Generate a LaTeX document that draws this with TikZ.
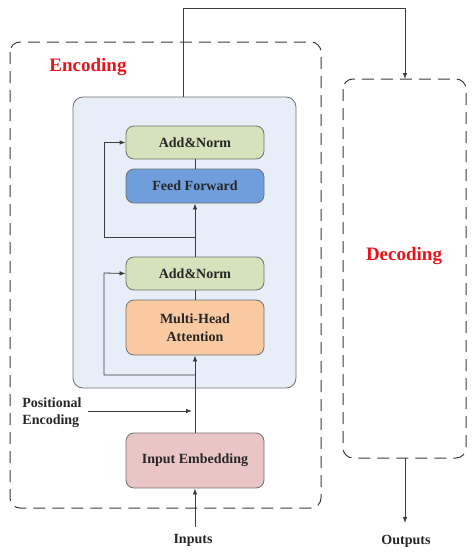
\documentclass[tikz,border=0pt]{standalone}
\usepackage{fontspec}
\setmainfont{Liberation Serif}
\usetikzlibrary{arrows.meta,positioning}
\definecolor{linec}{HTML}{3C3C3C}
\definecolor{bordc}{HTML}{707070}
\definecolor{encbg}{HTML}{E8EEF8}
\definecolor{addc}{HTML}{D5E2BC}
\definecolor{ffc}{HTML}{6E9EDC}
\definecolor{mhac}{HTML}{F9C9A2}
\definecolor{embc}{HTML}{EAC5C6}
\definecolor{redt}{HTML}{E8141B}
\begin{document}
\begin{tikzpicture}[x=1pt,y=-1pt,
  blk/.style={draw=bordc,line width=0.8pt,rounded corners=8pt,minimum width=138pt,align=center,font=\fontsize{14}{16}\selectfont\bfseries,inner sep=0pt,text=black!85},
  dbox/.style={draw=linec,line width=1pt,dash pattern=on 12pt off 7pt,rounded corners=10pt},
  conn/.style={draw=linec,line width=0.8pt},
  arr/.style={conn,-{Latex[length=6pt,width=4.5pt]}},
  lbl/.style={font=\fontsize{14}{17}\selectfont\bfseries,align=left,inner sep=0pt,text=black!85}
]
\useasboundingbox (0,0) rectangle (474,554);
% outer dashed boxes
\draw[dbox] (10,42) rectangle (321,508);
\draw[dbox] (343,79) rectangle (466,458);
\node[font=\fontsize{19}{21}\selectfont\bfseries,text=redt] (enc) at (88,67) {Encoding};
\node[font=\fontsize{19}{21}\selectfont\bfseries,text=redt] (dec) at (404,256) {Decoding};
% inner encoder block
\node[draw=bordc,fill=encbg,line width=0.8pt,rounded corners=10pt,minimum width=223pt,minimum height=291pt,inner sep=0pt] (encblk) at (184.5,242.5) {};
% boxes
\node[blk,fill=addc,minimum height=33pt] (an1) at (195,142.5) {Add\&Norm};
\node[blk,fill=ffc,minimum height=34pt] (ff) at (195,186) {Feed Forward};
\node[blk,fill=addc,minimum height=33pt] (an2) at (195,273.5) {Add\&Norm};
\node[blk,fill=mhac,minimum height=55pt,font=\fontsize{14}{18}\selectfont\bfseries] (mha) at (195,327.5) {Multi-Head\\Attention};
\node[blk,fill=embc,minimum height=55pt] (emb) at (195,460.5) {Input Embedding};
% labels
\node[lbl] (pos) at (52,413) {Positional\\Encoding};
\node[lbl] (inp) at (193,540) {Inputs};
\node[lbl] (outp) at (406,541) {Outputs};
% coordinates
\coordinate (b2) at (195,375);
\coordinate (b1) at (195,237);
\coordinate (pe) at (195,411);
\coordinate (inbot) at (195,527);
\coordinate (top1) at (183,8);
\coordinate (top2) at (405,8);
\coordinate (dectop) at (405,79);
\coordinate (decbot) at (405,458);
\coordinate (outend) at (405,523);
% connectors
\draw[arr] (inbot) -- (emb.south);
\draw[conn] (emb.north) -- (pe);
\draw[arr] (pe) -- (mha.south);
\draw[arr] (88,411) -- (192,411);
\draw[conn] (mha.north) -- (an2.south);
\draw[arr] (b2) -| (104,273) -- (an2.west);
\draw[arr] (an2.north) -- (ff.south);
\draw[conn] (ff.north) -- (an1.south);
\draw[arr] (b1) -| (104,142.5) -- (an1.west);
\draw[arr] (encblk.north -| top1) -- (top1) -- (top2) -- (dectop);
\draw[arr] (decbot) -- (outend);
\end{tikzpicture}
\end{document}
